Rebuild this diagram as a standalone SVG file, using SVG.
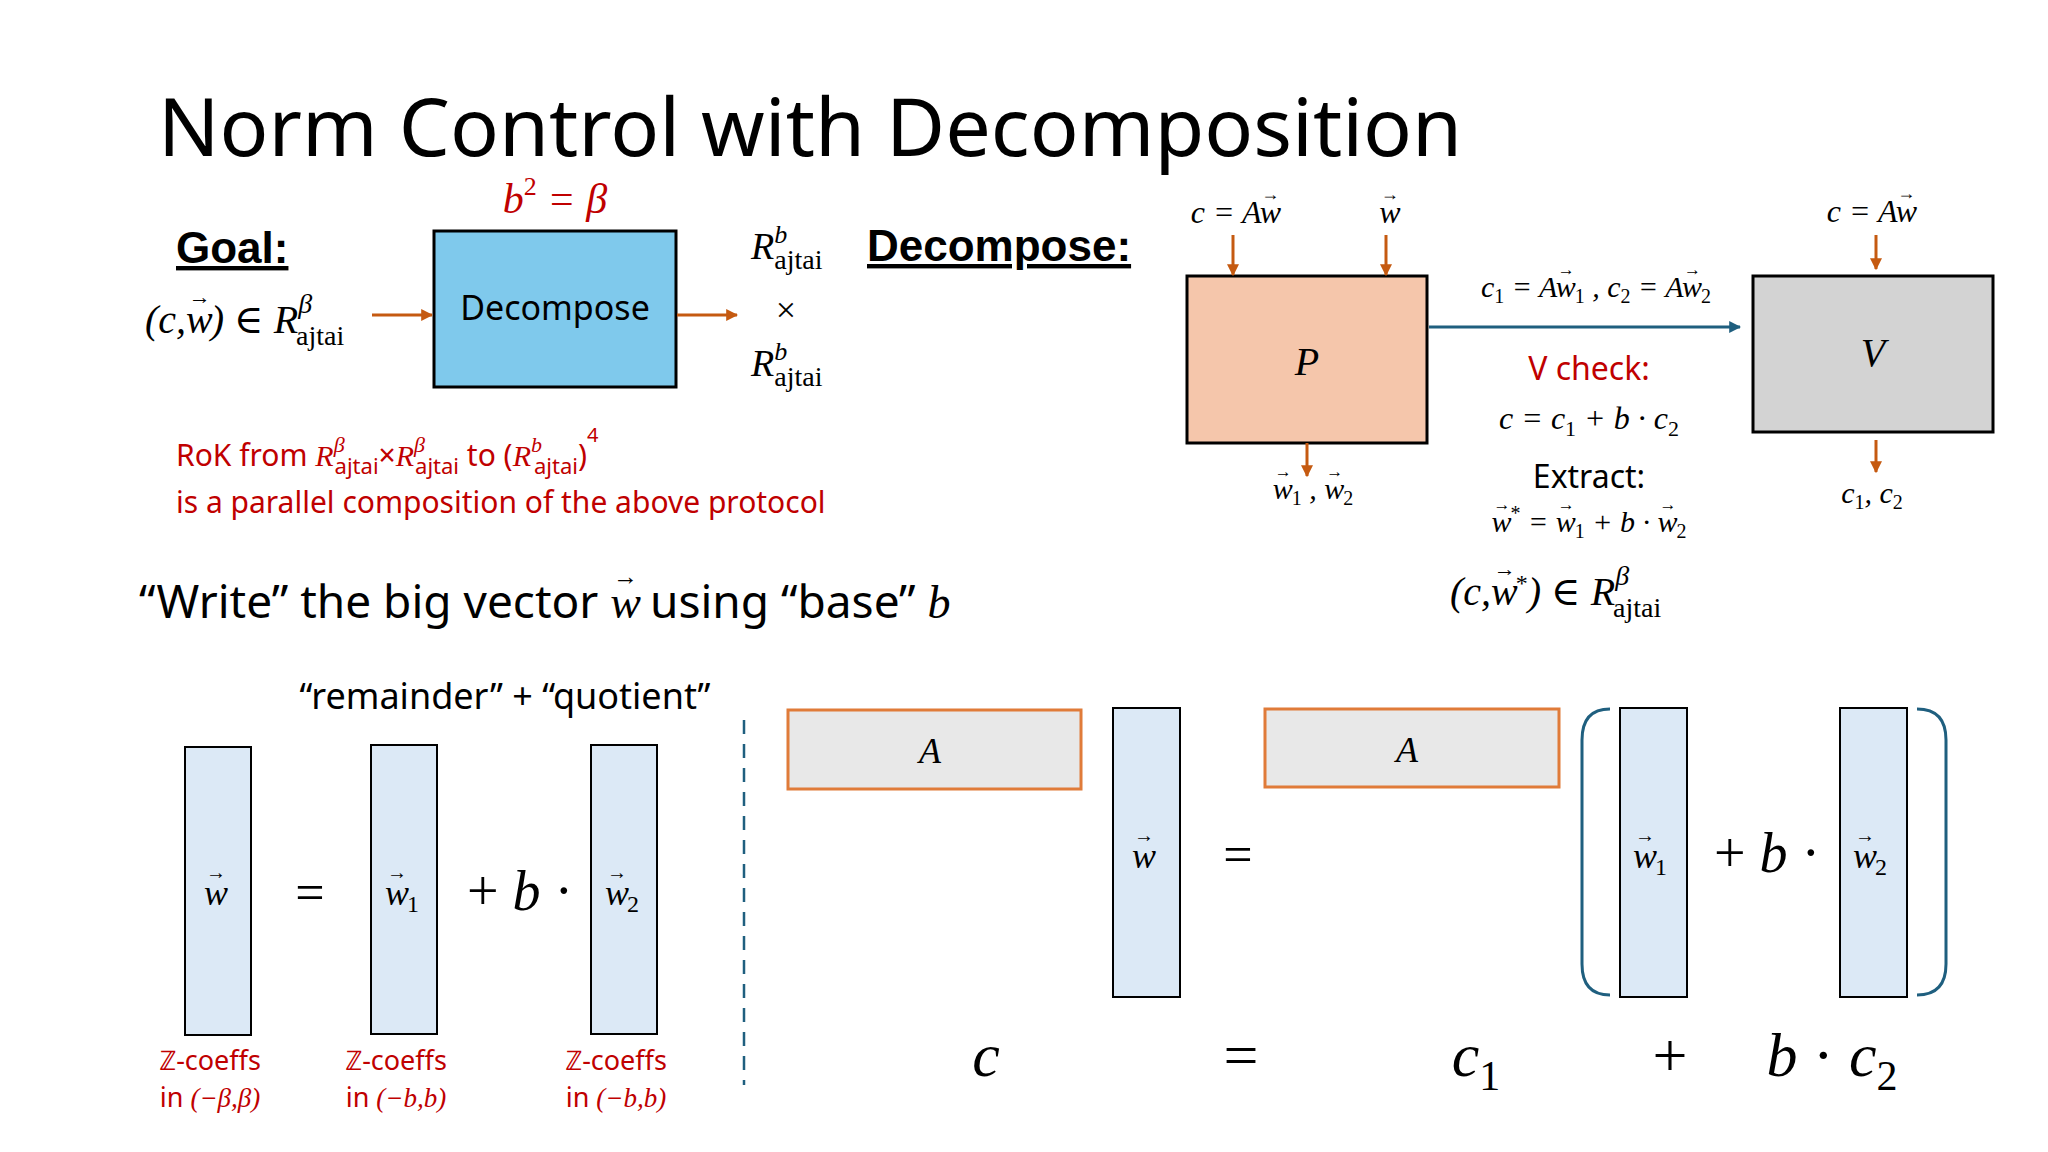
<svg xmlns="http://www.w3.org/2000/svg" width="2048" height="1152" viewBox="0 0 2048 1152">
<defs>
<marker id="ao" viewBox="0 0 10 10" refX="9" refY="5" markerWidth="4" markerHeight="4" orient="auto"><path d="M0,0L10,5L0,10z" fill="#c55a11"/></marker>
<marker id="ab" viewBox="0 0 10 10" refX="9" refY="5" markerWidth="4" markerHeight="4" orient="auto"><path d="M0,0L10,5L0,10z" fill="#1f5f7f"/></marker>
<style>
.t{font-family:"Noto Sans","Liberation Sans",sans-serif;fill:#000}
.m{font-family:"Liberation Serif","DejaVu Serif",serif;font-style:italic;fill:#000}
.u{font-family:"Liberation Serif","DejaVu Serif",serif;fill:#000}
.n{font-style:normal}
.r{fill:#c00000}
.h{font-family:"Liberation Sans",sans-serif;font-weight:bold;font-size:44px;text-decoration:underline}
.o{stroke:#c55a11;stroke-width:3;fill:none;marker-end:url(#ao)}
.vec{fill:#dce9f6;stroke:#000;stroke-width:2}
.abox{fill:#e8e8e8;stroke:#e07b39;stroke-width:3}
</style>
</defs>
<rect width="2048" height="1152" fill="#fff"/>
<text class="t" x="158" y="156" font-size="81">Norm Control with Decomposition</text>

<g id="goal">
<text class="h" x="176" y="263">Goal:</text>
<text class="m" x="145" y="333" font-size="40">(c,w<tspan class="n" font-size="22" dx="-24" dy="-29">→</tspan><tspan dy="29">) ∈ R</tspan><tspan font-size="28" dy="-20">β</tspan><tspan class="n" font-size="28" dx="-16" dy="32">ajtai</tspan></text>
</g>
<g id="decompose-box">
<rect x="434" y="231" width="242" height="156" fill="#7fc9ec" stroke="#000" stroke-width="3"/>
<text class="t" x="555" y="320" font-size="34" text-anchor="middle">Decompose</text>
<text class="m r" x="555" y="213" font-size="42" text-anchor="middle">b<tspan class="n" font-size="26" dy="-18">2</tspan><tspan dy="18"> = β</tspan></text>
</g>
<g id="outputs">
<text class="m" x="751" y="259" font-size="38">R<tspan font-size="26" dy="-16">b</tspan><tspan class="n" font-size="28" dx="-13" dy="26">ajtai</tspan></text>
<text class="u" x="786" y="322" font-size="36" text-anchor="middle">×</text>
<text class="m" x="751" y="376" font-size="38">R<tspan font-size="26" dy="-16">b</tspan><tspan class="n" font-size="28" dx="-13" dy="26">ajtai</tspan></text>
</g>
<text class="t r" x="176" y="466" font-size="30">RoK from <tspan class="m r">R</tspan><tspan class="m r" font-size="22" dy="-14">β</tspan><tspan font-size="22" dx="-10" dy="22">ajtai</tspan><tspan dy="-8">×</tspan><tspan class="m r">R</tspan><tspan class="m r" font-size="22" dy="-14">β</tspan><tspan font-size="22" dx="-10" dy="22">ajtai</tspan><tspan dy="-8"> to (</tspan><tspan class="m r">R</tspan><tspan class="m r" font-size="22" dy="-14">b</tspan><tspan font-size="22" dx="-8" dy="22">ajtai</tspan><tspan dy="-8">)</tspan><tspan font-size="20" dy="-24">4</tspan></text>
<text class="t r" x="176" y="513" font-size="30">is a parallel composition of the above protocol</text>
<text class="t" x="139" y="618" font-size="46">“Write” the big vector <tspan class="m">w</tspan><tspan class="u" font-size="25" dx="-28" dy="-33">→</tspan><tspan dy="33"> using “base” </tspan><tspan class="m">b</tspan></text>

<text class="h" x="867" y="261">Decompose:</text>
<g id="P">
<rect x="1187" y="276" width="240" height="167" fill="#f5c6ab" stroke="#000" stroke-width="3"/>
<text class="m" x="1307" y="375" font-size="40" text-anchor="middle">P</text>
</g>
<g id="V">
<rect x="1753" y="276" width="240" height="156" fill="#d3d3d3" stroke="#000" stroke-width="3"/>
<text class="m" x="1873" y="366" font-size="40" text-anchor="middle">V</text>
</g>
<g id="connectors">
<line class="o" x1="372" y1="315" x2="432" y2="315"/>
<line class="o" x1="677" y1="315" x2="737" y2="315"/>
<line class="o" x1="1233" y1="235" x2="1233" y2="275"/>
<line class="o" x1="1386" y1="235" x2="1386" y2="275"/>
<line class="o" x1="1307" y1="443" x2="1307" y2="476"/>
<line class="o" x1="1876" y1="235" x2="1876" y2="269"/>
<line class="o" x1="1876" y1="440" x2="1876" y2="472"/>
<line x1="1429" y1="327" x2="1740" y2="327" stroke="#1f5f7f" stroke-width="3" marker-end="url(#ab)"/>
</g>
<text class="m" x="1236" y="223" font-size="32" text-anchor="middle">c = Aw<tspan class="n" font-size="18" dx="-20" dy="-23">→</tspan></text>
<text class="m" x="1390" y="223" font-size="32" text-anchor="middle">w<tspan class="n" font-size="18" dx="-20" dy="-23">→</tspan></text>
<text class="m" x="1872" y="222" font-size="32" text-anchor="middle">c = Aw<tspan class="n" font-size="18" dx="-20" dy="-23">→</tspan></text>
<text class="m" x="1596" y="297" font-size="30" text-anchor="middle">c<tspan class="n" font-size="20" dy="6">1</tspan><tspan dy="-6"> = Aw</tspan><tspan class="n" font-size="17" dx="-18" dy="-22">→</tspan><tspan class="n" font-size="20" dy="28">1</tspan><tspan dy="-6"> , c</tspan><tspan class="n" font-size="20" dy="6">2</tspan><tspan dy="-6"> = Aw</tspan><tspan class="n" font-size="17" dx="-18" dy="-22">→</tspan><tspan class="n" font-size="20" dy="28">2</tspan></text>
<text class="t r" x="1589" y="380" font-size="32" text-anchor="middle">V check:</text>
<text class="m" x="1589" y="429" font-size="32" text-anchor="middle">c = c<tspan class="n" font-size="22" dy="7">1</tspan><tspan dy="-7"> + b · c</tspan><tspan class="n" font-size="22" dy="7">2</tspan></text>
<text class="t" x="1589" y="488" font-size="32" text-anchor="middle">Extract:</text>
<text class="m" x="1589" y="532" font-size="30" text-anchor="middle">w<tspan class="n" font-size="17" dx="-18" dy="-22">→</tspan><tspan class="n" font-size="20" dy="10">*</tspan><tspan dy="12"> = w</tspan><tspan class="n" font-size="17" dx="-18" dy="-22">→</tspan><tspan class="n" font-size="20" dy="28">1</tspan><tspan dy="-6"> + b · w</tspan><tspan class="n" font-size="17" dx="-18" dy="-22">→</tspan><tspan class="n" font-size="20" dy="28">2</tspan></text>
<text class="m" x="1450" y="605" font-size="40">(c,w<tspan class="n" font-size="22" dx="-24" dy="-29">→</tspan><tspan class="n" font-size="24" dy="15">*</tspan><tspan dy="14">) ∈ R</tspan><tspan font-size="28" dy="-20">β</tspan><tspan class="n" font-size="28" dx="-16" dy="32">ajtai</tspan></text>
<text class="m" x="1313" y="499" font-size="30" text-anchor="middle">w<tspan class="n" font-size="17" dx="-18" dy="-22">→</tspan><tspan class="n" font-size="20" dy="28">1</tspan><tspan dy="-6"> , w</tspan><tspan class="n" font-size="17" dx="-18" dy="-22">→</tspan><tspan class="n" font-size="20" dy="28">2</tspan></text>
<text class="m" x="1872" y="503" font-size="30" text-anchor="middle">c<tspan class="n" font-size="20" dy="6">1</tspan><tspan dy="-6">, c</tspan><tspan class="n" font-size="20" dy="6">2</tspan></text>

<text class="t" x="505" y="709" font-size="36" text-anchor="middle">“remainder” + “quotient”</text>
<g id="vec-left">
<rect class="vec" x="185" y="747" width="66" height="288"/>
<rect class="vec" x="371" y="745" width="66" height="289"/>
<rect class="vec" x="591" y="745" width="66" height="289"/>
<text class="m" x="216" y="905" font-size="36" text-anchor="middle">w<tspan class="n" font-size="20" dx="-22" dy="-26">→</tspan></text>
<text class="u" x="310" y="910" font-size="52" text-anchor="middle">=</text>
<text class="m" x="402" y="905" font-size="36" text-anchor="middle">w<tspan class="n" font-size="20" dx="-22" dy="-26">→</tspan><tspan class="n" font-size="24" dy="33">1</tspan></text>
<text class="m" x="520" y="910" font-size="56" text-anchor="middle"><tspan class="n">+</tspan> b <tspan class="n">·</tspan></text>
<text class="m" x="622" y="905" font-size="36" text-anchor="middle">w<tspan class="n" font-size="20" dx="-22" dy="-26">→</tspan><tspan class="n" font-size="24" dy="33">2</tspan></text>
</g>
<g font-size="27">
<text class="t r" x="210" y="1070" text-anchor="middle">ℤ-coeffs</text>
<text class="t r" x="396" y="1070" text-anchor="middle">ℤ-coeffs</text>
<text class="t r" x="616" y="1070" text-anchor="middle">ℤ-coeffs</text>
<text class="t r" x="210" y="1107" text-anchor="middle">in <tspan class="m r">(−β,β)</tspan></text>
<text class="t r" x="396" y="1107" text-anchor="middle">in <tspan class="m r">(−b,b)</tspan></text>
<text class="t r" x="616" y="1107" text-anchor="middle">in <tspan class="m r">(−b,b)</tspan></text>
</g>
<line x1="744" y1="720" x2="744" y2="1085" stroke="#1f5f7f" stroke-width="2.5" stroke-dasharray="14,10"/>

<g id="matrix">
<rect class="abox" x="788" y="710" width="293" height="79"/>
<text class="m" x="930" y="763" font-size="36" text-anchor="middle">A</text>
<rect class="vec" x="1113" y="708" width="67" height="289"/>
<text class="m" x="1144" y="868" font-size="36" text-anchor="middle">w<tspan class="n" font-size="20" dx="-22" dy="-26">→</tspan></text>
<text class="u" x="1238" y="872" font-size="52" text-anchor="middle">=</text>
<rect class="abox" x="1265" y="709" width="294" height="78"/>
<text class="m" x="1407" y="762" font-size="36" text-anchor="middle">A</text>
<path d="M1610,709 Q1582,709 1582,740 L1582,964 Q1582,995 1610,995" fill="none" stroke="#1f5f7f" stroke-width="3"/>
<path d="M1917,709 Q1946,709 1946,740 L1946,964 Q1946,995 1917,995" fill="none" stroke="#1f5f7f" stroke-width="3"/>
<rect class="vec" x="1620" y="708" width="67" height="289"/>
<rect class="vec" x="1840" y="708" width="67" height="289"/>
<text class="m" x="1650" y="868" font-size="36" text-anchor="middle">w<tspan class="n" font-size="20" dx="-22" dy="-26">→</tspan><tspan class="n" font-size="24" dy="33">1</tspan></text>
<text class="m" x="1767" y="872" font-size="56" text-anchor="middle"><tspan class="n">+</tspan> b <tspan class="n">·</tspan></text>
<text class="m" x="1870" y="868" font-size="36" text-anchor="middle">w<tspan class="n" font-size="20" dx="-22" dy="-26">→</tspan><tspan class="n" font-size="24" dy="33">2</tspan></text>
</g>
<g font-size="62">
<text class="m" x="986" y="1076" text-anchor="middle">c</text>
<text class="u" x="1241" y="1076" text-anchor="middle">=</text>
<text class="m" x="1476" y="1076" text-anchor="middle">c<tspan class="n" font-size="42" dy="14">1</tspan></text>
<text class="u" x="1670" y="1076" text-anchor="middle">+</text>
<text class="m" x="1832" y="1076" text-anchor="middle">b <tspan class="n">·</tspan> c<tspan class="n" font-size="42" dy="14">2</tspan></text>
</g>
</svg>
